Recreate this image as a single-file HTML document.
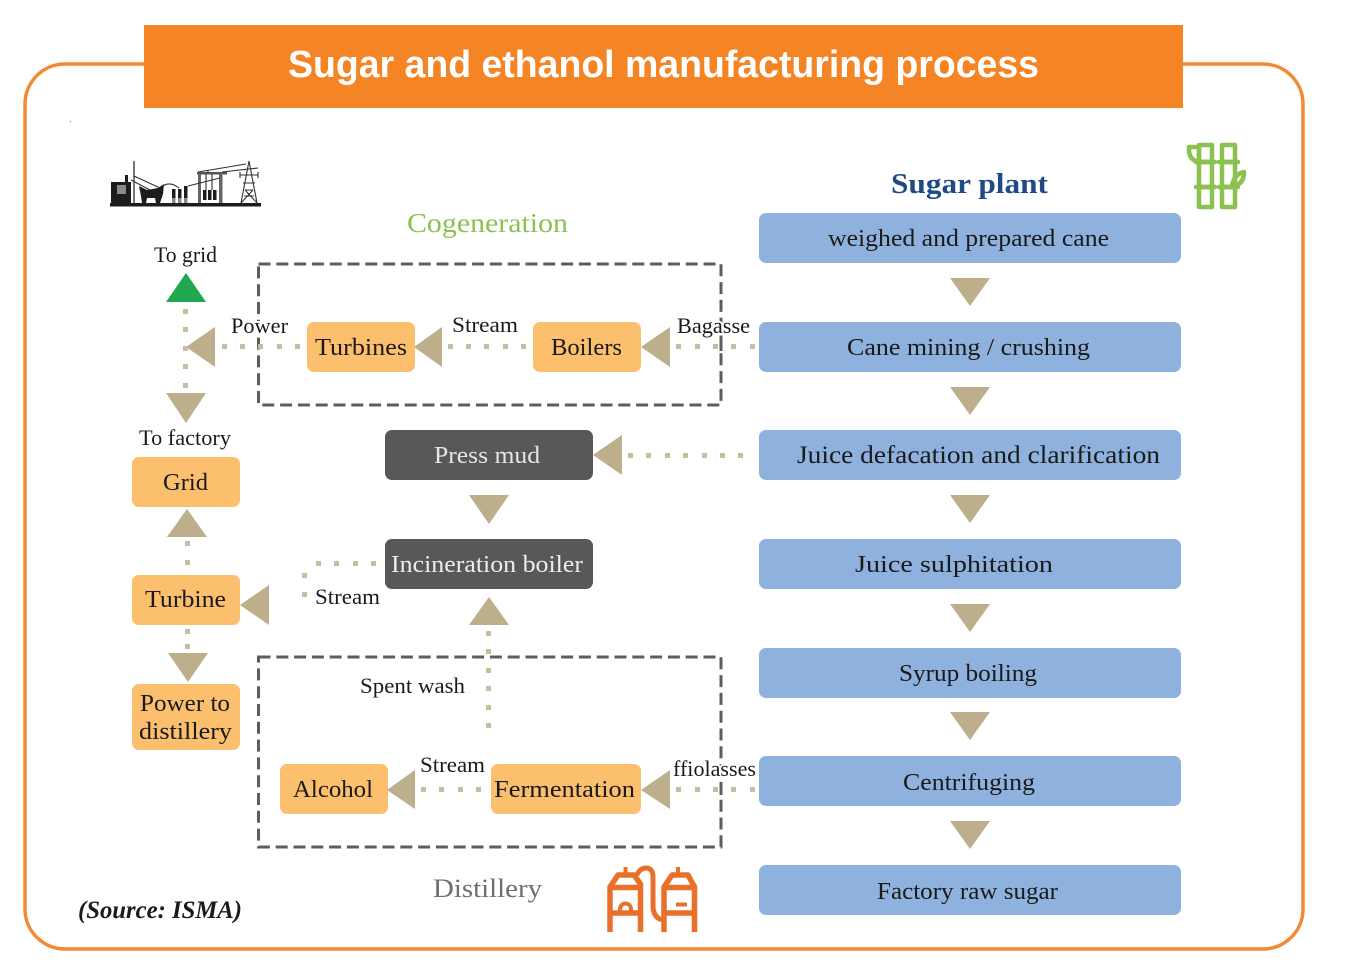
<!DOCTYPE html>
<html><head><meta charset="utf-8"><style>
html,body{margin:0;padding:0;background:#fff}
svg{display:block}
text{font-family:"Liberation Serif",serif;fill:#1a1a1a;font-size:24px}
.h{fill:#bdae8c}
.d{fill:#c8bd9f}
.w{paint-order:stroke;stroke:#fff;stroke-width:4px;stroke-linejoin:round}
</style></head><body>
<svg xmlns="http://www.w3.org/2000/svg" width="1345" height="975" viewBox="0 0 1345 975">
<rect x="25" y="64" width="1278" height="885" rx="40" fill="#fff" stroke="#f08a36" stroke-width="3.5"/>
<rect x="144" y="25" width="1039" height="83" fill="#f58424"/>
<text x="288" y="77" textLength="751" lengthAdjust="spacingAndGlyphs" style="font-family:'Liberation Sans',sans-serif;font-weight:bold;font-size:38px;fill:#fff">Sugar and ethanol manufacturing process</text>
<rect x="70" y="121" width="1" height="1" fill="#777"/>

<!-- dashed boxes -->
<g fill="none" stroke="#5c5d5f" stroke-width="3" stroke-dasharray="12 5.8">
<rect x="258.500" y="264" width="462.500" height="141"/>
<rect x="258.500" y="657" width="462.500" height="190"/>
</g>

<!-- blue -->
<g fill="#8eb1de">
<rect x="759" y="213" width="422" height="50" rx="7"/>
<rect x="759" y="322" width="422" height="50" rx="7"/>
<rect x="759" y="430" width="422" height="50" rx="7"/>
<rect x="759" y="539" width="422" height="50" rx="7"/>
<rect x="759" y="648" width="422" height="50" rx="7"/>
<rect x="759" y="756" width="422" height="50" rx="7"/>
<rect x="759" y="865" width="422" height="50" rx="7"/>
</g>
<!-- orange -->
<g fill="#fbbf6e">
<rect x="307" y="322" width="108" height="50" rx="7"/>
<rect x="533" y="322" width="108" height="50" rx="7"/>
<rect x="132" y="457" width="108" height="50" rx="7"/>
<rect x="132" y="575" width="108" height="50" rx="7"/>
<rect x="132" y="684" width="108" height="66" rx="7"/>
<rect x="280" y="764" width="108" height="50" rx="7"/>
<rect x="491" y="764" width="150" height="50" rx="7"/>
</g>
<!-- dark -->
<g fill="#58585a">
<rect x="385" y="430" width="208" height="50" rx="7"/>
<rect x="385" y="539" width="208" height="50" rx="7"/>
</g>

<!-- triangles -->
<polygon points="166,302 206,302 186,273" fill="#1fa84f"/>
<g class="h">
<polygon points="950,278 990,278 970,306"/>
<polygon points="950,387 990,387 970,415"/>
<polygon points="950,495 990,495 970,523"/>
<polygon points="950,604 990,604 970,632"/>
<polygon points="950,712 990,712 970,740"/>
<polygon points="950,821 990,821 970,849"/>
<polygon points="186,347 215,327 215,367"/>
<polygon points="166,393 206,393 186,423"/>
<polygon points="414,347 442,327 442,367"/>
<polygon points="641,347 670,327 670,367"/>
<polygon points="593,455 622,435 622,475"/>
<polygon points="469,495 509,495 489,524"/>
<polygon points="469,625 509,625 489,597"/>
<polygon points="167,537 207,537 187,509"/>
<polygon points="240,605 269,585 269,625"/>
<polygon points="168,653 208,653 188,682"/>
<polygon points="387,790 415,770 415,809"/>
<polygon points="641,790 670,770 670,809"/>
</g>

<!-- dots -->
<g class="d">
<rect x="183" y="309" width="5" height="5"/><rect x="183" y="327" width="5" height="5"/><rect x="183" y="346" width="5" height="5"/><rect x="183" y="364" width="5" height="5"/><rect x="183" y="383" width="5" height="5"/>
<rect x="222" y="344" width="5" height="5"/><rect x="240" y="344" width="5" height="5"/><rect x="258" y="344" width="5" height="5"/><rect x="277" y="344" width="5" height="5"/><rect x="295" y="344" width="5" height="5"/>
<rect x="448" y="344" width="5" height="5"/><rect x="466" y="344" width="5" height="5"/><rect x="484" y="344" width="5" height="5"/><rect x="503" y="344" width="5" height="5"/><rect x="521" y="344" width="5" height="5"/>
<rect x="676" y="344" width="5" height="5"/><rect x="695" y="344" width="5" height="5"/><rect x="713" y="344" width="5" height="5"/><rect x="731" y="344" width="5" height="5"/><rect x="750" y="344" width="5" height="5"/>
<rect x="628" y="453" width="5" height="5"/><rect x="646" y="453" width="5" height="5"/><rect x="665" y="453" width="5" height="5"/><rect x="683" y="453" width="5" height="5"/><rect x="702" y="453" width="5" height="5"/><rect x="720" y="453" width="5" height="5"/><rect x="738" y="453" width="5" height="5"/>
<rect x="316" y="561" width="5" height="5"/><rect x="334" y="561" width="5" height="5"/><rect x="353" y="561" width="5" height="5"/><rect x="371" y="561" width="5" height="5"/>
<rect x="302" y="573" width="5" height="5"/><rect x="302" y="592" width="5" height="5"/>
<rect x="486" y="631" width="5" height="5"/><rect x="486" y="649" width="5" height="5"/><rect x="486" y="668" width="5" height="5"/><rect x="486" y="686" width="5" height="5"/><rect x="486" y="705" width="5" height="5"/><rect x="486" y="723" width="5" height="5"/>
<rect x="185" y="541" width="5" height="5"/><rect x="185" y="560" width="5" height="5"/>
<rect x="185" y="629" width="5" height="5"/><rect x="185" y="644" width="5" height="5"/>
<rect x="421" y="787" width="5" height="5"/><rect x="439" y="787" width="5" height="5"/><rect x="458" y="787" width="5" height="5"/><rect x="476" y="787" width="5" height="5"/>
<rect x="676" y="787" width="5" height="5"/><rect x="695" y="787" width="5" height="5"/><rect x="713" y="787" width="5" height="5"/><rect x="731" y="787" width="5" height="5"/><rect x="750" y="787" width="5" height="5"/>
</g>
<!-- dash marks redrawn over dots -->
<rect x="719.500" y="340" width="3" height="11" fill="#5c5d5f"/>
<rect x="719.500" y="784" width="3" height="11" fill="#5c5d5f"/>

<!-- labels -->
<text x="407" y="232" textLength="161" lengthAdjust="spacingAndGlyphs" style="font-size:27px;fill:#8cc152">Cogeneration</text>
<text x="891" y="193" textLength="157" lengthAdjust="spacingAndGlyphs" style="font-size:28px;font-weight:bold;fill:#1f4a85">Sugar plant</text>
<text x="828" y="246" textLength="281" lengthAdjust="spacingAndGlyphs">weighed and prepared cane</text>
<text x="847" y="355" textLength="243" lengthAdjust="spacingAndGlyphs">Cane mining / crushing</text>
<text x="797" y="463" textLength="363" lengthAdjust="spacingAndGlyphs" style="font-size:25px">Juice defacation and clarification</text>
<text x="855" y="572" textLength="198" lengthAdjust="spacingAndGlyphs">Juice sulphitation</text>
<text x="899" y="681" textLength="138" lengthAdjust="spacingAndGlyphs">Syrup boiling</text>
<text x="903" y="790" textLength="132" lengthAdjust="spacingAndGlyphs">Centrifuging</text>
<text x="877" y="899" textLength="181" lengthAdjust="spacingAndGlyphs">Factory raw sugar</text>

<text x="154" y="262" textLength="63" lengthAdjust="spacingAndGlyphs" style="font-size:22px">To grid</text>
<text class="w" x="231" y="333" textLength="57" lengthAdjust="spacingAndGlyphs" style="font-size:22px">Power</text>
<text x="452" y="332" textLength="66" lengthAdjust="spacingAndGlyphs" style="font-size:22px">Stream</text>
<text class="w" x="677" y="333" textLength="73" lengthAdjust="spacingAndGlyphs" style="font-size:22px">Bagasse</text>
<text x="139" y="445" textLength="92" lengthAdjust="spacingAndGlyphs" style="font-size:22px">To factory</text>
<text x="315" y="355" textLength="92" lengthAdjust="spacingAndGlyphs">Turbines</text>
<text x="551" y="355" textLength="71" lengthAdjust="spacingAndGlyphs">Boilers</text>
<text x="163" y="490" textLength="45" lengthAdjust="spacingAndGlyphs">Grid</text>
<text x="145" y="607" textLength="81" lengthAdjust="spacingAndGlyphs">Turbine</text>
<text x="140" y="711" textLength="90" lengthAdjust="spacingAndGlyphs">Power to</text>
<text x="139" y="739" textLength="93" lengthAdjust="spacingAndGlyphs">distillery</text>
<text x="434" y="463" textLength="106" lengthAdjust="spacingAndGlyphs" style="fill:#e6e6e6">Press mud</text>
<text x="391" y="572" textLength="192" lengthAdjust="spacingAndGlyphs" style="fill:#ededed">Incineration boiler</text>
<text x="315" y="604" textLength="65" lengthAdjust="spacingAndGlyphs" style="font-size:22px">Stream</text>
<text x="360" y="693" textLength="105" lengthAdjust="spacingAndGlyphs" style="font-size:22px">Spent wash</text>
<text x="420" y="772" textLength="65" lengthAdjust="spacingAndGlyphs" style="font-size:22px">Stream</text>
<text class="w" x="673" y="776" textLength="83" lengthAdjust="spacingAndGlyphs" style="font-size:22px">ffiolasses</text>
<text x="293" y="797" textLength="80" lengthAdjust="spacingAndGlyphs">Alcohol</text>
<text x="494" y="797" textLength="141" lengthAdjust="spacingAndGlyphs">Fermentation</text>
<text x="433" y="897" textLength="109" lengthAdjust="spacingAndGlyphs" style="font-size:26px;fill:#6d6e70">Distillery</text>
<text x="78" y="918" textLength="164" lengthAdjust="spacingAndGlyphs" style="font-size:25px;font-style:italic;font-weight:bold">(Source: ISMA)</text>

<!-- power plant icon -->
<g fill="#1c1c1c" stroke="none">
<rect x="110" y="203" width="151" height="3.500"/>
<rect x="111" y="182" width="20" height="21"/>
<rect x="117" y="185" width="9" height="9" fill="#8a8a8a"/>
<rect x="125" y="175" width="3" height="8"/>
<rect x="133" y="161" width="2" height="42" fill="#777"/>
<path d="M139 186 L147 190 L158 188 L164 184 L163 194 L160 203 L156 203 L155 198 L147 198 L146 203 L142 203 L141 196 Z"/>
<rect x="172" y="189" width="3.500" height="9"/><rect x="172" y="198" width="3.500" height="5" fill="#888"/>
<rect x="178" y="189" width="3.500" height="9"/><rect x="178" y="198" width="3.500" height="5" fill="#888"/>
<rect x="184" y="186" width="3.500" height="12"/><rect x="184" y="198" width="3.500" height="5" fill="#888"/>
<rect x="197" y="172" width="30" height="2.500" fill="#555"/>
<rect x="198" y="174" width="3" height="29" fill="#666"/>
<rect x="219" y="173" width="3.500" height="30" fill="#666"/>
<rect x="203" y="190" width="3.500" height="10"/><rect x="208" y="190" width="3.500" height="10"/><rect x="213" y="190" width="3.500" height="10"/>
<g fill="none" stroke="#333" stroke-width="1.100">
<path d="M131 180 L150 190 M134 176 L160 188 M163 186 Q170 181 179 188"/>
<path d="M206 174 V190 M212 174 V190"/>
<path d="M208 170 V173 M198 172 L246 164 M222 172 L258 168 M188 186 L220 178"/>
<path d="M249 161 L241 203 M249 161 L257 203 M241 203 L253 190 M257 203 L245 190 M240 175 H258 M240 172 V178 M258 172 V178 M243 183 H255 M245 190 H253 M244 196 H254"/>
</g>
</g>

<!-- bamboo icon -->
<g fill="none" stroke="#8cc152" stroke-width="4.500" stroke-linejoin="round" stroke-linecap="round">
<rect x="1199" y="145" width="13" height="17"/>
<rect x="1199" y="162" width="13" height="25"/>
<rect x="1199" y="187" width="13" height="20"/>
<rect x="1222" y="145" width="13" height="17"/>
<rect x="1222" y="162" width="13" height="25"/>
<rect x="1222" y="187" width="13" height="20"/>
<path d="M1196 162 H1215 M1196 187 H1215 M1219 162 H1238 M1219 187 H1238"/>
<path d="M1199 162 Q1188 160 1189 147 L1199 147 Z"/>
<path d="M1232 186 Q1244 185 1244 172 Q1234 174 1232 186 Z"/>
</g>

<!-- distillery icon -->
<g fill="none" stroke="#e8702a" stroke-width="5.500" stroke-linejoin="round">
<path d="M610 932 V887 L618 875 H634 L640.500 884 V932"/>
<path d="M664 932 V887 L672 875 H688 L694.500 887 V932"/>
<path d="M608 887.500 H643 M608 913 H643 M662 887.500 H697 M662 913 H697"/>
<path d="M637 875 Q640 868 646 868 Q653 868 653 877 V905 Q653 919 664 920" stroke-width="5"/>
<path d="M620 911 V909 A5.500 5.500 0 0 1 631 909 V911" stroke-width="4"/>
<path d="M676 904.500 H687" stroke-width="4"/>
<path d="M625.500 867 V875 M678 867 V875" stroke-width="4"/>
</g>
</svg>
</body></html>
